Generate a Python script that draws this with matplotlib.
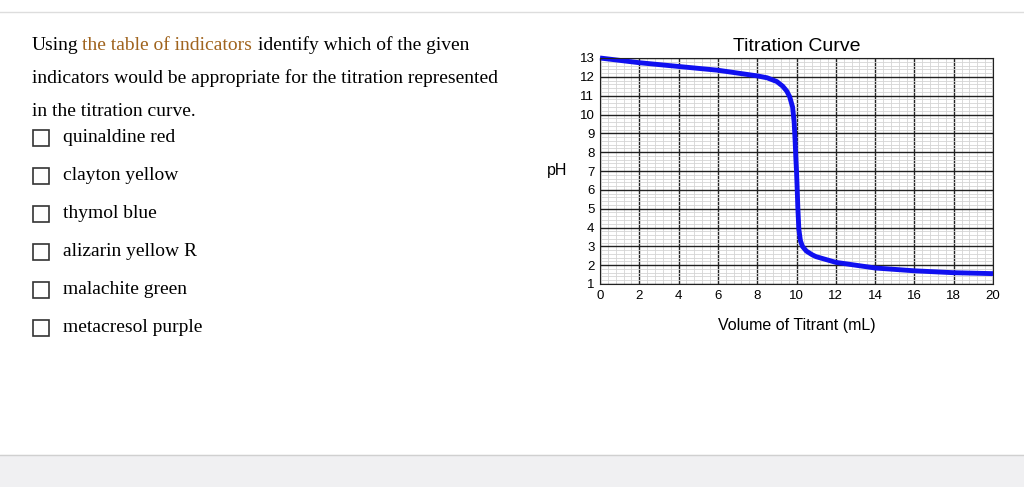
import matplotlib
matplotlib.use("Agg")
import matplotlib.pyplot as plt
import numpy as np
from matplotlib.patches import Rectangle

volume = [0, 2, 4, 6, 7, 8, 8.5, 9, 9.3, 9.5, 9.65, 9.8, 9.88, 9.93, 9.97, 10.0, 10.03, 10.07, 10.12, 10.2, 10.3, 10.5, 10.8, 11, 12, 14, 16, 18, 20]
ph = [13, 12.75, 12.55, 12.35, 12.2, 12.05, 11.95, 11.75, 11.5, 11.25, 10.95, 10.4, 9.6, 8.6, 7.6, 7.0, 6.2, 5.0, 3.9, 3.3, 3.0, 2.75, 2.55, 2.45, 2.15, 1.85, 1.7, 1.6, 1.55]
xticks = list(range(0, 21, 2))
yticks = list(range(1, 14))
options = ["quinaldine red", "clayton yellow", "thymol blue", "alizarin yellow R",
           "malachite green", "metacresol purple"]

fig = plt.figure(figsize=(10.24, 4.87), dpi=100)
W, H = 1024, 487
fig.add_artist(plt.Line2D([0, 1], [1 - 12 / H, 1 - 12 / H], color="#dddddd", lw=1))
fig.add_artist(Rectangle((0, 0), 1, 32 / H, color="#f0f0f2", transform=fig.transFigure))
fig.add_artist(plt.Line2D([0, 1], [32 / H, 32 / H], color="#d0d0d0", lw=1))

serif = "Liberation Serif"
sans = "Liberation Sans"
fs = 14
fig.text(32 / W, 1 - 45 / H, "Using", family=serif, fontsize=fs, va="center")
fig.text(82 / W, 1 - 45 / H, "the table of indicators", family=serif, fontsize=fs, va="center", color="#a0641e")
fig.text(258 / W, 1 - 45 / H, "identify which of the given", family=serif, fontsize=fs, va="center")
fig.text(32 / W, 1 - 78 / H, "indicators would be appropriate for the titration represented",
         family=serif, fontsize=fs, va="center")
fig.text(32 / W, 1 - 111 / H, "in the titration curve.", family=serif, fontsize=fs, va="center")
for i, o in enumerate(options):
    yc = 138 + i * 38
    fig.add_artist(Rectangle((33 / W, 1 - (yc + 8) / H), 16 / W, 16 / H, fill=False,
                             ec="#333333", lw=1.2, transform=fig.transFigure))
    fig.text(63 / W, 1 - yc / H, o, family=serif, fontsize=fs, va="center")

ax = fig.add_axes([600 / W, 1 - 284 / H, 393 / W, 226 / H])
ax.set_xlim(0, 20)
ax.set_ylim(1, 13)
ax.set_xticks(xticks)
ax.set_yticks(yticks)
ax.set_xticks(np.arange(0, 20.01, 0.4), minor=True)
ax.set_yticks(np.arange(1, 13.01, 0.2), minor=True)
ax.grid(which="minor", color="#d4d4d4", lw=0.6)
ax.grid(which="major", color="#222222", lw=1.0)
ax.tick_params(which="both", length=0, labelsize=9.5, pad=4)
for lab in ax.get_xticklabels() + ax.get_yticklabels():
    lab.set_family(sans)
for s in ax.spines.values():
    s.set_color("#222222")
ax.plot(volume, ph, color="#1010f0", lw=3.5, solid_capstyle="butt", solid_joinstyle="round", clip_on=False)
ax.set_title("Titration Curve", fontsize=14, pad=5, family=sans)
ax.set_xlabel("Volume of Titrant (mL)", fontsize=11.5, labelpad=12, family=sans)
ax.set_ylabel("pH", fontsize=11.5, rotation=0, labelpad=16, va="center", family=sans)
fig.savefig("out.png", dpi=100)
